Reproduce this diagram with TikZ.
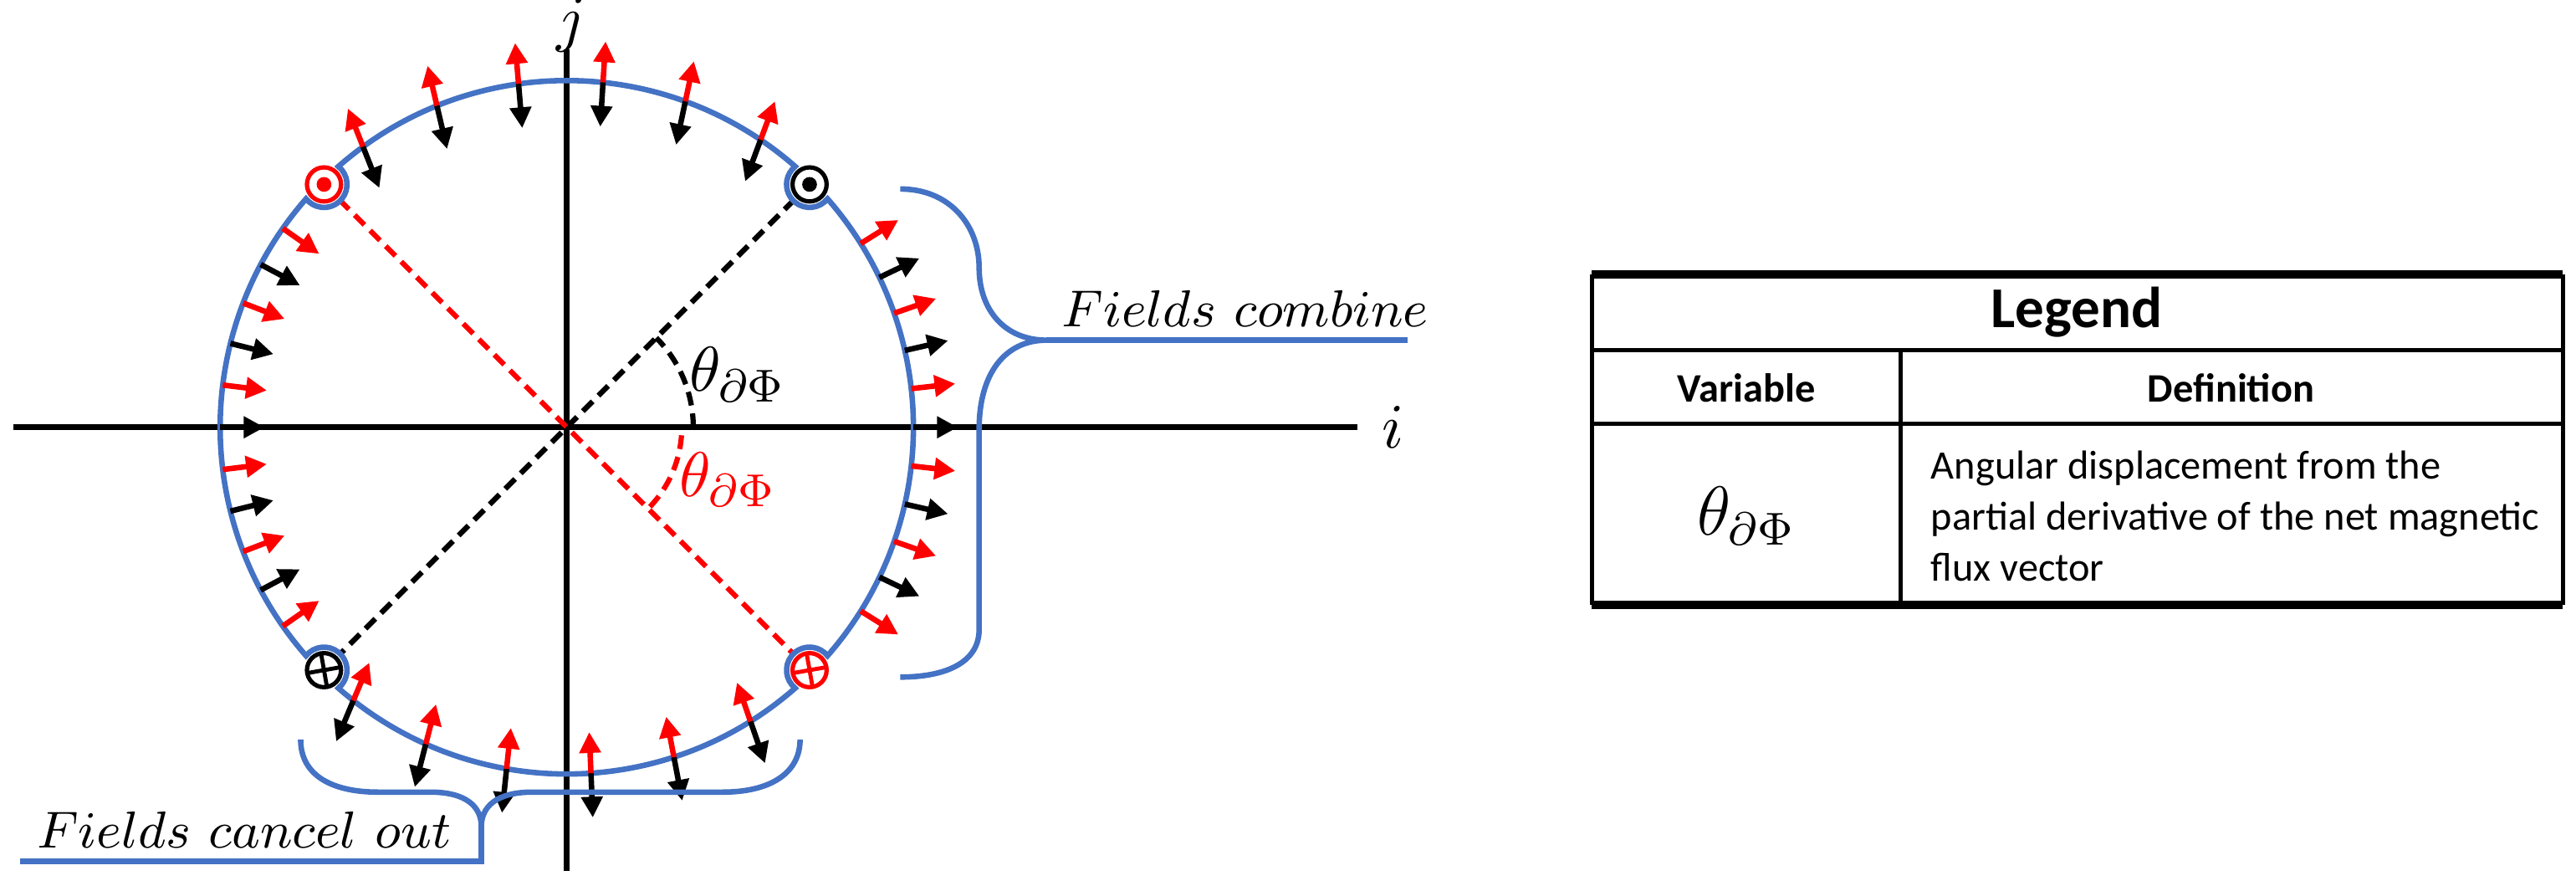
\documentclass[tikz,border=0pt]{standalone}
\usepackage{fontspec}
\newfontfamily\calibri{Carlito}
\usetikzlibrary{calc,arrows.meta}
\definecolor{bl}{HTML}{4472C4}
\definecolor{rd}{HTML}{FF0000}
\begin{document}
\begin{tikzpicture}[x=0.01cm,y=0.01cm,
  arr/.style={line width=0.95pt,-{Triangle[length=3.6pt,width=3.6pt]}},
  ax/.style={line width=0.95pt,black},
  bline/.style={line width=0.95pt,bl},
  dsh/.style={line width=0.9pt,dash pattern=on 2.4pt off 1.4pt},
  ring/.style={circle,draw,line width=0.75pt,minimum size=5.9pt,inner sep=0pt},
  lab/.style={font=\fontsize{11}{12}\selectfont},
  flab/.style={font=\fontsize{9.2}{11}\selectfont},
  leg/.style={font=\calibri\fontsize{7}{8.8}\selectfont}]
\useasboundingbox (0,0) rectangle (1568,539);
\coordinate (O) at (345,279);
% axes
\coordinate (il) at (8,279); \coordinate (ir) at (826,279);
\coordinate (jb) at (345,9); \coordinate (jt) at (345,509);
\draw[ax] (il) -- (ir);
\draw[ax] (jb) -- (jt);
\node[lab,anchor=west] (ilab) at (829,279) {$i$};
\node[lab,anchor=base] (jlab) at (348,515) {$j$};
% dashed lines
\draw[dsh,black] ($(O)+(45:196)$) -- ($(O)+(225:196)$);
\draw[dsh,rd] ($(O)+(135:196)$) -- ($(O)+(315:196)$);
\draw[dsh,black] ($(O)+(0:77)$) arc[start angle=0,end angle=45,radius=77];
\draw[dsh,rd] ($(O)+(-4:70)$) arc[start angle=-4,end angle=-45,radius=70];
\node[lab] (tb) at (449,311) {$\theta_{\partial\Phi}$};
\node[lab,text=rd] (tr) at (443,247) {$\theta_{\partial\Phi}$};
% blue boundary with notches
\draw[bline] ($(O)+(48.78:211)$) arc[start angle=48.78,end angle=131.22,radius=211]
  arc[start angle=411.3,end angle=218.7,radius=14]
  arc[start angle=138.78,end angle=221.22,radius=211]
  arc[start angle=501.3,end angle=308.7,radius=14]
  arc[start angle=228.78,end angle=311.22,radius=211]
  arc[start angle=591.3,end angle=398.7,radius=14]
  arc[start angle=318.78,end angle=401.22,radius=211]
  arc[start angle=681.3,end angle=488.7,radius=14] -- cycle;
% conductors
\node[ring,rd] (c1) at ($(O)+(135:209)$) {};
\fill[rd] (c1) circle[radius=4.5];
\node[ring,black] (c2) at ($(O)+(45:209)$) {};
\fill[black] (c2) circle[radius=4.5];
\node[ring,black] (c3) at ($(O)+(225:209)$) {};
\draw[line width=0.7pt] ($(c3)+(100:10)$) -- ($(c3)+(280:10)$) ($(c3)+(10:10)$) -- ($(c3)+(190:10)$);
\node[ring,rd] (c4) at ($(O)+(315:209)$) {};
\draw[line width=0.7pt,rd] ($(c4)+(100:10)$) -- ($(c4)+(280:10)$) ($(c4)+(10:10)$) -- ($(c4)+(190:10)$);
% left side arrows (inward)
\foreach \a/\c in {145/rd,152/black,159/rd,166/black,173/rd,180/black,187/rd,194/black,201/rd,208/black,215/rd}
  \draw[arr,\c] ($(O)+(\a:211)$) -- ($(O)+(\a:184)$);
% right side arrows (outward)
\foreach \a/\c in {32/rd,25.6/black,19.2/rd,12.8/black,6.4/rd,0/black,-6.4/rd,-12.8/black,-19.2/rd,-25.6/black,-32/rd}
  \draw[arr,\c] ($(O)+(\a:211)$) -- ($(O)+(\a:238)$);
% top double arrows
\foreach \a in {126,112,98,84,70,56}{
  \pgfmathsetmacro\d{90+0.6*(\a-90)}
  \coordinate (X) at ($(O)+(\a:211)$);
  \draw[arr,rd] (X) -- ($(X)+(\d:25)$);
  \draw[arr,black] (X) -- ($(X)+(\d+180:27)$);
}
% bottom double arrows
\foreach \a in {232,246,260,274,288,302}{
  \pgfmathsetmacro\d{270+0.6*(\a-270)}
  \coordinate (X) at ($(O)+(\a:211)$);
  \draw[arr,black] (X) -- ($(X)+(\d:27)$);
  \draw[arr,rd] (X) -- ($(X)+(\d+180:25)$);
}
% right brace
\coordinate (rt) at (548,424); \coordinate (rtip) at (637,332); \coordinate (rb) at (548,127);
\coordinate (rend) at (857,332);
\draw[bline] (rt) .. controls (578,424) and (596,402) .. (596,376)
  .. controls (596,350) and (612,332) .. (rtip)
  .. controls (612,332) and (596,312) .. (596,278) -- (596,156)
  .. controls (596,136) and (576,127) .. (rb);
\draw[bline] (rtip) -- (rend);
\node[flab,anchor=base west] (fc) at (634,340) {$Fields\ combine$};
% bottom brace
\coordinate (bl1) at (183,89); \coordinate (btip) at (293,36); \coordinate (br) at (487,89);
\coordinate (bend) at (12,15); \coordinate (bcor) at (293,15);
\draw[bline] (bl1) .. controls (183,66) and (204,57) .. (230,57) -- (262,57)
  .. controls (284,57) and (293,48) .. (btip)
  .. controls (293,48) and (302,57) .. (324,57) -- (440,57)
  .. controls (468,57) and (487,68) .. (br);
\draw[bline] (btip) -- (bcor) -- (bend);
\node[flab,anchor=base west] (fco) at (10,23) {$Fields\ cancel\ out$};
% legend
\draw[line width=1.5pt] (969,372) -- (1560,372);
\draw[line width=1.5pt] (969,171) -- (1560,171);
\draw[line width=0.7pt] (969,372) -- (969,171) (1560,372) -- (1560,171);
\draw[line width=0.7pt] (969,326) -- (1560,326) (969,281) -- (1560,281);
\draw[line width=0.7pt] (1157,326) -- (1157,171);
\node[font=\calibri\bfseries\fontsize{10}{11}\selectfont] (lg) at (1264,349) {Legend};
\node[font=\calibri\bfseries\fontsize{7}{8}\selectfont] (lv) at (1063,303) {Variable};
\node[font=\calibri\bfseries\fontsize{7}{8}\selectfont] (ld) at (1358,303) {Definition};
\node[font=\fontsize{12}{13}\selectfont] (lt) at (1063,225) {$\theta_{\partial\Phi}$};
\node[leg,anchor=west,align=left] (ldef) at (1163,225) {Angular displacement from the\\partial derivative of the net magnetic\\flux vector};
\end{tikzpicture}
\end{document}
